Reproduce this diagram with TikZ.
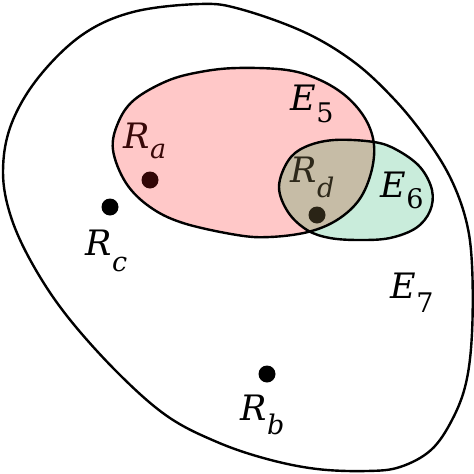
\documentclass[tikz,border=0pt]{standalone}
\usepackage{fontspec}
\setmainfont{DejaVu Serif}
% #1 main letter, #2 subscript (already styled), #3 lowering
\newcommand{\sublab}[3]{\textit{#1}\kern0.5pt\raisebox{-#3pt}{\fontsize{27}{27}\selectfont #2}}
\begin{document}
\begin{tikzpicture}[x=1pt,y=-1pt,
  outline/.style={draw=black,line width=2.4pt},
  dot/.style={circle,fill=black,inner sep=0pt,minimum size=17pt},
  lab/.style={inner sep=0pt,anchor=base west,font=\fontsize{35}{40}\selectfont}]
\useasboundingbox (0,0) rectangle (474,474);
\fill[white] (0,0) rectangle (474,474);
\def\Eseven{(200,4) (240,9) (304,32) (354,62) (394,99) (425,137) (450,177) (466,220) (472,265) (472,333) (466,383) (452,420) (431,450) (400,467) (367,471) (317,469) (267,459) (217,442) (167,416) (117,372) (67,316) (33,265) (11,217) (3,172) (11,125) (38,78) (82,35) (133,12)}
\def\Efive{(237,68) (287,70) (320,80) (347,97) (366,120) (374,145) (371,173) (359,200) (337,220) (308,232) (270,237) (237,235) (183,223) (150,207) (126,183) (113,150) (118,123) (134,100) (167,81) (200,72)}
\def\Esix{(334,140) (374,142) (397,150) (420,167) (432,190) (430,211) (416,228) (390,238) (360,240) (330,238) (307,230) (288,212) (279,187) (288,161) (305,147)}
\tikzset{blob/.style={smooth cycle,tension=0.6}}
% E5 and E6 fills
\fill[fill={rgb,255:red,255;green,200;blue,200}] plot[blob] coordinates \Efive;
\fill[fill={rgb,255:red,201;green,236;blue,219}] plot[blob] coordinates \Esix;
\begin{scope}
  \clip plot[blob] coordinates \Efive;
  \fill[fill={rgb,255:red,198;green,188;blue,166}] plot[blob] coordinates \Esix;
\end{scope}
\draw[outline] plot[blob] coordinates \Efive;
\draw[outline] plot[blob] coordinates \Esix;
\draw[outline] plot[blob] coordinates \Eseven;
% points
\node[dot,fill={rgb,255:red,50;green,6;blue,6}] (pa) at (150,180) {};
\node[dot] (pc) at (110,207) {};
\node[dot,fill={rgb,255:red,42;green,36;blue,22}] (pd) at (317,215) {};
\node[dot] (pb) at (267,374) {};
% labels
\node[lab,text={rgb,255:red,55;green,8;blue,8}] (la) at (123,148) {\sublab{R}{\textit{a}}{10}};
\node[lab] (l5) at (290,110) {\sublab{E}{5}{12}};
\node[lab,text={rgb,255:red,45;green,40;blue,26}] (ld) at (290,182) {\sublab{R}{\textit{d}}{15}};
\node[lab] (l6) at (380,197) {\sublab{E}{6}{11}};
\node[lab] (lc) at (85,255) {\sublab{R}{\textit{c}}{16}};
\node[lab] (l7) at (390,298) {\sublab{E}{7}{14}};
\node[lab] (lb) at (240,420) {\sublab{R}{\textit{b}}{14}};
\end{tikzpicture}
\end{document}
